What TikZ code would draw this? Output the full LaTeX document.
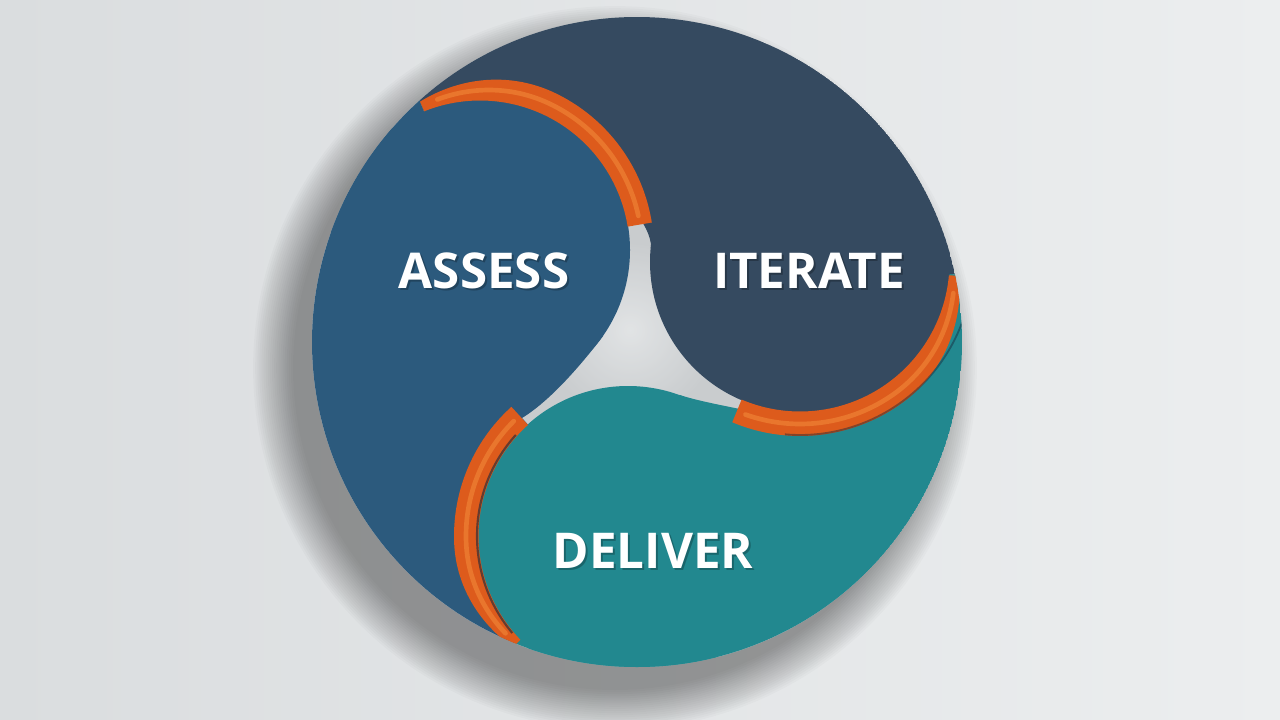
\documentclass[tikz,border=0pt]{standalone}
\usepackage{fontspec}
\setmainfont{Open Sans}
\usetikzlibrary{calc}
\definecolor{bgl}{HTML}{DADDDF}
\definecolor{bgr}{HTML}{ECEEEF}
\definecolor{gapc}{HTML}{C9CCCE}
\definecolor{asscol}{HTML}{2C5A7D}
\definecolor{itercol}{HTML}{354A60}
\definecolor{delcol}{HTML}{22888F}
\definecolor{rimc}{HTML}{DD5B1C}
\definecolor{rimhi}{HTML}{F5913F}
\definecolor{rimdark}{HTML}{17263A}
\newcommand{\rimband}[4]{%
  \fill[rimc] plot[domain=0:1,samples=70,variable=\t]
    ({#1+(150+rimt(\t))*cos(#3+(#4-#3)*\t)},{#2+(150+rimt(\t))*sin(#3+(#4-#3)*\t)})
    -- plot[domain=1:0,samples=70,variable=\t]
    ({#1+149.5*cos(#3+(#4-#3)*\t)},{#2+149.5*sin(#3+(#4-#3)*\t)}) -- cycle;
  \draw[rimhi, line width=3.5pt, opacity=0.5, line cap=round]
    plot[domain=0.06:0.97,samples=60,variable=\t]
    ({#1+(150+0.5*rimt(\t))*cos(#3+(#4-#3)*\t)},{#2+(150+0.5*rimt(\t))*sin(#3+(#4-#3)*\t)});
}
\tikzset{
  lbl/.style={text=white, font=\fontsize{37}{40}\selectfont\bfseries, inner sep=0pt},
  lblshadow/.style={text=black, opacity=0.25, font=\fontsize{37}{40}\selectfont\bfseries, inner sep=0pt}
}
\begin{document}
\begin{tikzpicture}[x=0.75pt,y=-0.75pt,
  declare function={rimt(\t)=10+14*sin(90*min(2.2*\t,1));}]
\useasboundingbox (0,0) rectangle (1280,720);
\shade[left color=bgl, right color=bgr] (0,0) rectangle (1280,720);
\coordinate (C) at (637,342);
\coordinate (A) at (480,250);
\coordinate (I) at (800,262);
\coordinate (D) at (628,536);
% soft drop shadow, mostly to the lower left
\foreach \k in {0,...,19}
  \fill[black, opacity=0.02] ($(C)+(-22,26)$) circle[radius=322+2.1*\k];
\begin{scope}
  \clip (C) circle[radius=325];
  % gap background
  \fill[gapc] (C) circle[radius=325];
  \shade[inner color=bgr, outer color=gapc, opacity=0.7] (630,330) circle[radius=90];
  % tails
  \fill[itercol] ($(C)+(228:325)$) arc[start angle=228, end angle=348, radius=325]
     -- (I) -- (651,249) .. controls (652,235) and (641,220) .. (636,212) -- (A) -- cycle;
  \fill[asscol] ($(C)+(228:325)$) arc[start angle=228, end angle=112, radius=325]
     -- (D) -- (522,418) .. controls (555,398) and (591,352) .. (603,336) -- (A) -- cycle;
  \fill[delcol] ($(C)+(112:325)$) arc[start angle=112, end angle=-12, radius=325]
     -- (I) -- (740,409) .. controls (725,406) and (694,400) .. (680,395) -- (D) -- cycle;
  % lobes
  \fill[asscol] (A) circle[radius=150];
  \fill[itercol] (I) circle[radius=150];
  \fill[delcol] (D) circle[radius=150];
  % rims
  \rimband{480}{250}{248}{351}
  \rimband{800}{262}{5}{113}
  \rimband{628}{536}{136}{228}
  \draw[rimdark, line width=1.6pt, opacity=0.6] (628,536) ++(140:151) arc[start angle=140, end angle=222, radius=151];
  \draw[rimdark, line width=1.4pt, opacity=0.45] (800,262) ++(14:173) arc[start angle=14, end angle=95, radius=173];
\end{scope}
% labels
\node[lblshadow] (assessS) at (486,273) {ASSESS};
\node[lbl] (assess) at (484,271) {ASSESS};
\node[lblshadow] (iterateS) at (811,273) {ITERATE};
\node[lbl] (iterate) at (809,271) {ITERATE};
\node[lblshadow] (deliverS) at (655,553) {DELIVER};
\node[lbl] (deliver) at (653,551) {DELIVER};
\end{tikzpicture}
\end{document}
